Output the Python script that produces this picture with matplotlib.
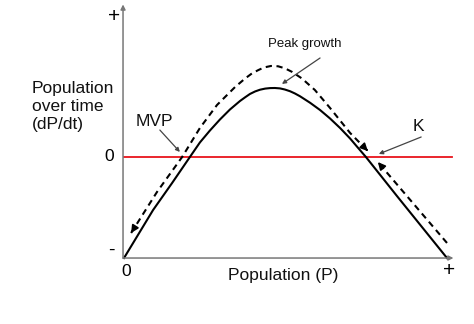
import numpy as np
import matplotlib.pyplot as plt

plt.rcParams['font.family'] = ['Liberation Sans', 'DejaVu Sans']

# population (P, 0-100) and growth rate dP/dt (x axis sits at -100)
p_curve = [0, 9.0, 14.9, 20.4, 23.5, 26.6, 29.7, 32.8, 35.9, 37.5, 39.0,
           40.6, 42.1, 43.7, 45.2, 46.7, 48.3, 49.8, 51.4, 52.9, 54.5, 57.6,
           60.7, 63.8, 66.9, 70.0, 72.1, 74.9, 84.5, 100]
rate_curve = [-100, -52.5, -25.7, 0, 14.4, 26.2, 37.1, 47.0, 55.4, 59.1, 62.4,
              64.9, 66.6, 67.7, 68.2, 68.3, 67.9, 66.8, 65.1, 62.9, 60.1, 53.7,
              46.5, 38.1, 28.7, 18.3, 10.4, 0, -38.6, -100]

# dashed path showing direction of change (MVP -> 0, MVP -> K)
p_flow = [2.2, 10.2, 18.0, 23.5, 28.8, 34.4, 37.5, 39.6, 41.5, 43.3, 45.5,
          47.7, 49.8, 52.0, 55.1, 59.1, 63.8, 70.0, 75.5]
rate_flow = [-75.2, -34.7, 0, 28.7, 51.5, 69.3, 77.7, 82.7, 85.9, 88.6, 90.1,
             89.8, 87.8, 84.3, 77.7, 66.3, 48.5, 23.8, 5.9]

# dashed return above K
p_back = [100, 78.6]
rate_back = [-85.1, -5.0]

# annotation labels: (text, text position, arrow start, arrow tip, size)
notes = [
    ('MVP', (9.3, 34.7), (11.1, 26.7), (17.3, 5.0), 12.5),
    ('Peak growth', (56.0, 111.9), (60.7, 98.0), (48.9, 72.3), 9.5),
    ('K', (91.0, 29.7), (92.0, 19.8), (78.9, 3.0), 12.5),
]


def head(ax, xs, ys):
    # arrowhead at the last point, pointing along the last segment
    x1, y1 = xs[-1], ys[-1]
    x0, y0 = xs[-2], ys[-2]
    ax.annotate('', xy=(x1, y1),
                xytext=(x1 - 0.05 * (x1 - x0), y1 - 0.05 * (y1 - y0)),
                arrowprops=dict(arrowstyle='-|>', color='black', lw=1.2,
                                mutation_scale=11, shrinkA=0, shrinkB=0))


fig = plt.figure(figsize=(4.74, 3.24), dpi=100)
ax = fig.add_axes([0, 0, 1, 1])
ax.set_xlim(-38.39, 108.36)
ax.set_ylim(-165.3, 155.4)
ax.axis('off')

# axes with arrows
axis_style = dict(arrowstyle='-|>', color='#777777', lw=1.1,
                  mutation_scale=7, shrinkA=0, shrinkB=0)
ax.annotate('', xy=(-0.3, 151), xytext=(-0.3, -100), arrowprops=axis_style)
ax.annotate('', xy=(102, -100), xytext=(-0.3, -100), arrowprops=axis_style)

# zero growth line
ax.plot([0, 101.5], [0, 0], color='#e8141b', lw=1.3)

# growth curve
ax.plot(p_curve, rate_curve, color='black', lw=1.5, solid_joinstyle='round')

# direction of change
ax.plot(p_flow, rate_flow, color='black', lw=1.5, linestyle=(0, (3, 2.2)))
head(ax, p_flow[::-1], rate_flow[::-1])
head(ax, p_flow, rate_flow)
ax.plot(p_back, rate_back, color='black', lw=1.5, linestyle=(0, (3, 2.2)))
head(ax, p_back, rate_back)

# labels
for txt, pos, start, tip, size in notes:
    ax.text(pos[0], pos[1], txt, fontsize=size, ha='center', va='center',
            color='#111111')
    ax.annotate('', xy=tip, xytext=start,
                arrowprops=dict(arrowstyle='-|>', color='#444444', lw=0.9,
                                mutation_scale=6, shrinkA=0, shrinkB=0))

ax.text(-28.5, 49.5, 'Population\nover time\n(dP/dt)', fontsize=12.5,
        ha='left', va='center', linespacing=1.25, color='#111111')
ax.text(-3.1, 139.5, '+', fontsize=15, ha='center', va='center')
ax.text(-4.6, 0, '0', fontsize=12.5, ha='center', va='center')
ax.text(-4.0, -92, '-', fontsize=14, ha='center', va='center')
ax.text(0.6, -113.8, '0', fontsize=12.5, ha='center', va='center')
ax.text(100.6, -111.9, '+', fontsize=15, ha='center', va='center')
ax.text(49.2, -116.8, 'Population (P)', fontsize=12.5, ha='center',
        va='center', color='#111111')

fig.savefig('out.png', dpi=100)
